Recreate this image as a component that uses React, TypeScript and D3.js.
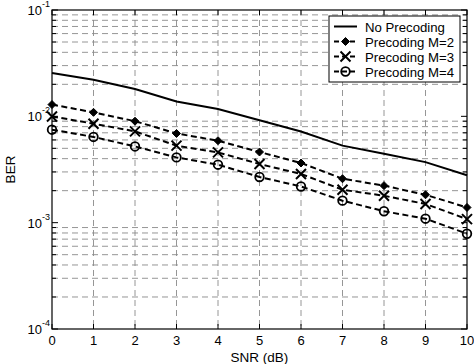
import React from "react";
import * as d3 from "d3";

// SNR (dB) points
const snr = [0, 1, 2, 3, 4, 5, 6, 7, 8, 9, 10];

// BER
const berNoPrecoding = [0.0256, 0.0221, 0.0181, 0.0138, 0.0117, 0.0092, 0.0072, 0.0053, 0.00445, 0.00371, 0.00279];
const berM2 = [0.0129, 0.0109, 0.009, 0.0069, 0.0059, 0.00462, 0.00364, 0.00259, 0.00223, 0.00183, 0.00139];
const berM3 = [0.00998, 0.00853, 0.00722, 0.0053, 0.00458, 0.00356, 0.00287, 0.00204, 0.00179, 0.0015, 0.00108];
const berM4 = [0.00749, 0.0064, 0.00521, 0.00411, 0.00351, 0.00269, 0.00219, 0.00161, 0.00128, 0.00109, 0.000787];

const seriesNames = ["No Precoding", "Precoding M=2", "Precoding M=3", "Precoding M=4"];
const markerKinds = ["none", "diamond", "cross", "circle"];

const xTicks = [0, 1, 2, 3, 4, 5, 6, 7, 8, 9, 10];
const decadeExps = [-4, -3, -2, -1];

const W = 474;
const H = 364;
const margin = { left: 52, right: 7, top: 10, bottom: 35 };
const font = "'Liberation Sans', Arial, Helvetica, sans-serif";

function Marker({ kind, x, y }: { kind: string; x: number; y: number }) {
  if (kind === "diamond") {
    const s = 4;
    return <path d={`M${x},${y - s}L${x + s},${y}L${x},${y + s}L${x - s},${y}Z`} fill="black" stroke="black" strokeWidth={1} />;
  }
  if (kind === "cross") {
    const s = 5;
    return <path d={`M${x - s},${y - s}L${x + s},${y + s}M${x - s},${y + s}L${x + s},${y - s}`} stroke="black" strokeWidth={2} fill="none" />;
  }
  if (kind === "circle") {
    return <circle cx={x} cy={y} r={4.3} fill="none" stroke="black" strokeWidth={1.8} />;
  }
  return null;
}

export default function App() {
  const x = d3.scaleLinear().domain([0, 10]).range([margin.left, W - margin.right]);
  const y = d3.scaleLog().domain([1e-4, 1e-1]).range([H - margin.bottom, margin.top]);

  const allSeries = [berNoPrecoding, berM2, berM3, berM4];
  const line = d3.line<number>().x((_, i) => x(snr[i])).y((d) => y(d));

  const minorY: number[] = [];
  decadeExps.slice(0, 3).forEach((e) => {
    for (let k = 2; k <= 9; k++) minorY.push(k * Math.pow(10, e));
  });
  const majorY = decadeExps.map((e) => Math.pow(10, e));

  const x0 = x(0), x1 = x(10), yTop = y(1e-1), yBot = y(1e-4);
  const gridDash = "6,4";

  // legend
  const lx = 329, ly = 16, lw = 131, lh = 66;

  return (
    <svg width={W} height={H} style={{ position: "absolute", left: 0, top: 0, background: "white" }} fontFamily={font}>
      <rect x={0} y={0} width={W} height={H} fill="white" />
      {/* grid */}
      <g stroke="#8a8a8a" strokeWidth={0.9} strokeDasharray={gridDash}>
        {xTicks.slice(1, -1).map((t) => (
          <line key={"gx" + t} x1={x(t)} x2={x(t)} y1={yTop} y2={yBot} />
        ))}
        {minorY.map((v, i) => (
          <line key={"gy" + i} x1={x0} x2={x1} y1={y(v)} y2={y(v)} />
        ))}
      </g>
      {/* ticks */}
      <g stroke="black" strokeWidth={1}>
        {xTicks.map((t) => (
          <g key={"tx" + t}>
            <line x1={x(t)} x2={x(t)} y1={yBot} y2={yBot - 5} />
            <line x1={x(t)} x2={x(t)} y1={yTop} y2={yTop + 5} />
          </g>
        ))}
        {minorY.map((v, i) => (
          <g key={"ty" + i}>
            <line x1={x0} x2={x0 + 4} y1={y(v)} y2={y(v)} />
            <line x1={x1} x2={x1 - 4} y1={y(v)} y2={y(v)} />
          </g>
        ))}
        {majorY.map((v, i) => (
          <g key={"tm" + i}>
            <line x1={x0} x2={x0 + 6} y1={y(v)} y2={y(v)} />
            <line x1={x1} x2={x1 - 6} y1={y(v)} y2={y(v)} />
          </g>
        ))}
      </g>
      <rect x={x0} y={yTop} width={x1 - x0} height={yBot - yTop} fill="none" stroke="black" strokeWidth={1.2} />
      {/* series */}
      {allSeries.map((s, si) => (
        <g key={"s" + si}>
          <path
            d={line(s) || ""}
            fill="none"
            stroke="black"
            strokeWidth={2}
            strokeDasharray={si === 0 ? undefined : "6,3.5"}
          />
          {s.map((v, i) => (
            <Marker key={i} kind={markerKinds[si]} x={x(snr[i])} y={y(v)} />
          ))}
        </g>
      ))}
      {/* x tick labels */}
      <g fontSize={13} textAnchor="middle" fill="black">
        {xTicks.map((t) => (
          <text key={"lx" + t} x={x(t)} y={yBot + 16}>
            {t}
          </text>
        ))}
      </g>
      {/* y tick labels */}
      <g fill="black">
        {decadeExps.map((e) => (
          <g key={"ly" + e}>
            <text x={x0 - 10} y={y(Math.pow(10, e)) + 5} fontSize={13} textAnchor="end">
              10
            </text>
            <text x={x0 - 10} y={y(Math.pow(10, e)) - 3} fontSize={9} textAnchor="start">
              {String(e)}
            </text>
          </g>
        ))}
      </g>
      <text x={(x0 + x1) / 2} y={H - 2.5} fontSize={13.5} textAnchor="middle">
        SNR (dB)
      </text>
      <text transform={`translate(15,${(yTop + yBot) / 2}) rotate(-90)`} fontSize={13.5} textAnchor="middle">
        BER
      </text>
      {/* legend */}
      <rect x={lx} y={ly} width={lw} height={lh} fill="white" stroke="black" strokeWidth={1} />
      {seriesNames.map((n, i) => {
        const yy = ly + 10.5 + i * 15;
        return (
          <g key={"lg" + i}>
            <line x1={lx + 5} x2={lx + 28} y1={yy} y2={yy} stroke="black" strokeWidth={2} strokeDasharray={i === 0 ? undefined : "5,3"} />
            <Marker kind={markerKinds[i]} x={lx + 16.5} y={yy} />
            <text x={lx + 36} y={yy + 5} fontSize={13.2}>
              {n}
            </text>
          </g>
        );
      })}
    </svg>
  );
}
